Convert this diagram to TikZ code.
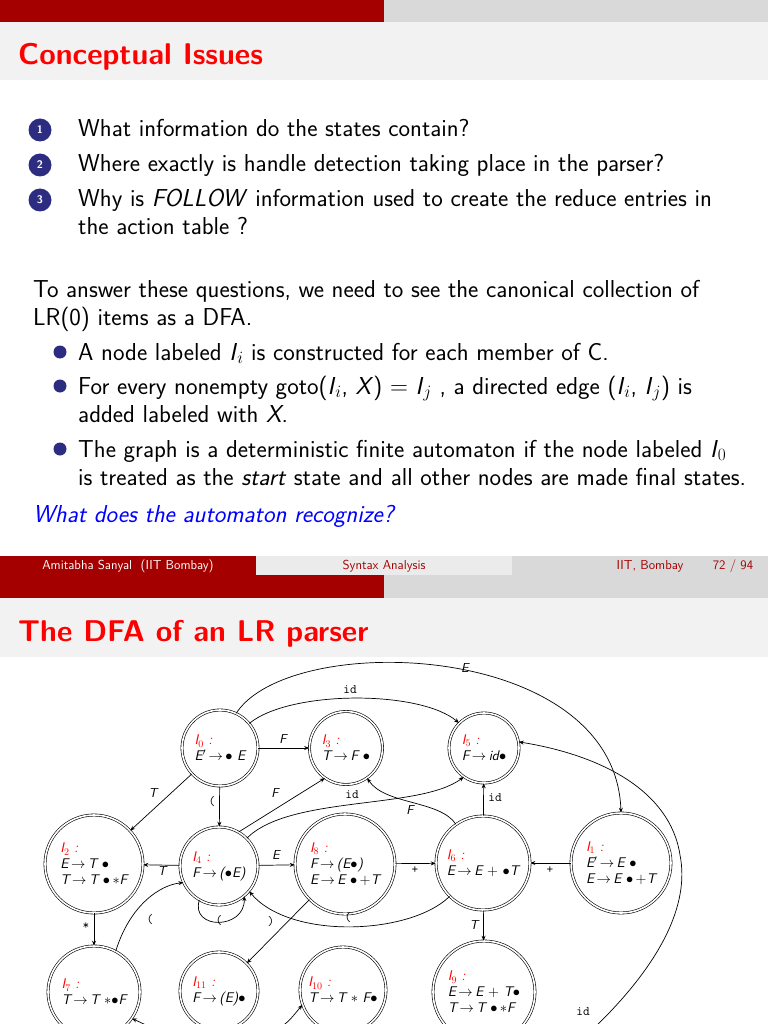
\documentclass[tikz,border=0pt]{standalone}
\usetikzlibrary{arrows.meta}
\definecolor{barred}{HTML}{A50000}
\definecolor{bandgray}{HTML}{F2F2F2}
\definecolor{bargray}{HTML}{D9D9D9}
\definecolor{midgray}{HTML}{EBEBEB}
\definecolor{titlered}{HTML}{FF0000}
\definecolor{ballblue}{HTML}{2C2C80}
\newcommand{\ar}{$\,\to\,$}
\newcommand{\bt}{$\bullet$}
\begin{document}
\begin{tikzpicture}[x=1pt,y=-1pt,
  body/.style={anchor=base west,inner sep=0,font=\fontsize{24.5}{28}\selectfont\sffamily},
  ttl/.style={anchor=base west,inner sep=0,text=titlered,font=\fontsize{30}{34}\selectfont\sffamily\bfseries},
  foot/.style={inner sep=0,font=\fontsize{13}{15}\selectfont\sffamily},
  st/.style={circle,draw,double,double distance=1.6pt,line width=0.6pt,inner sep=0,align=left,font=\fontsize{14}{16}\selectfont\sffamily\itshape},
  tr/.style={-{Stealth[length=5pt,width=4pt]},line width=0.7pt},
  lab/.style={inner sep=0,font=\fontsize{13}{14}\selectfont\sffamily\itshape},
  tlab/.style={inner sep=0,font=\fontsize{13}{14}\selectfont\ttfamily},
  bigball/.style={circle,inner sep=0,minimum size=23pt,fill=ballblue,text=white,font=\fontsize{11}{11}\selectfont\sffamily\bfseries},
  smallball/.style={circle,inner sep=0,minimum size=13pt,fill=ballblue}]
\useasboundingbox (0,0) rectangle (768,1024);
\clip (0,0) rectangle (768,1024);
% slide 1 frame
\fill[barred] (0,0) rectangle (384,22);
\fill[bargray] (384,0) rectangle (768,22);
\fill[bandgray] (0,22) rectangle (768,80);
\node[ttl] (t1) at (18,65) {Conceptual Issues};
\node[bigball] (b1) at (40,130) {1};
\node[bigball] (b2) at (40,165) {2};
\node[bigball] (b3) at (40,200) {3};
\node[body] (q1) at (78,137) {What information do the states contain?};
\node[body] (q2) at (78,172) {Where exactly is handle detection taking place in the parser?};
\node[body] (q3) at (78,207) {Why is \textit{FOLLOW} information used to create the reduce entries in};
\node[body] (q3b) at (78,235) {the action table ?};
\node[body] (p1) at (33,297) {To answer these questions, we need to see the canonical collection of};
\node[body] (p2) at (33,325) {LR(0) items as a DFA.};
\node[smallball] (d1) at (60,352) {};
\node[smallball] (d2) at (60,386) {};
\node[smallball] (d3) at (60,449) {};
\node[body] (s1) at (78,360) {A node labeled \textit{I}$_i$ is constructed for each member of C.};
\node[body] (s2) at (78,394) {For every nonempty goto(\textit{I}$_i$, \textit{X}) $=$ \textit{I}$_j$ , a directed edge (\textit{I}$_i$, \textit{I}$_j$) is};
\node[body] (s2b) at (78,422) {added labeled with \textit{X}.};
\node[body] (s3) at (78,457) {The graph is a deterministic finite automaton if the node labeled \textit{I}$_0$};
\node[body] (s3b) at (78,485) {is treated as the \textit{start} state and all other nodes are made final states.};
\node[body,text=blue,font=\fontsize{24.5}{28}\selectfont\sffamily\itshape] (bl) at (33,522) {What does the automaton recognize?};
% footer
\fill[barred] (0,556) rectangle (256,575);
\fill[midgray] (256,556) rectangle (512,575);
\fill[bargray] (512,556) rectangle (768,575);
\node[foot,text=white] (f1) at (128,566) {Amitabha Sanyal\ \ (IIT Bombay)};
\node[foot,text=barred] (f2) at (384,566) {Syntax Analysis};
\node[foot,text=barred] (f3) at (650,566) {IIT, Bombay};
\node[foot,text=barred] (f4) at (733,566) {72 / 94};
% slide 2 frame
\fill[barred] (0,575) rectangle (384,598);
\fill[bargray] (384,575) rectangle (768,598);
\fill[bandgray] (0,598) rectangle (768,657);
\node[ttl] (t2) at (18,641) {The DFA of an LR parser};
% states
\node[st,minimum size=76pt] (i0) at (220,748) {\textcolor{red}{I$_0$ :}\\E$'$\ar\bt\ E};
\node[st,minimum size=73pt] (i3) at (346,748) {\textcolor{red}{I$_3$ :}\\T\ar F \bt};
\node[st,minimum size=70pt] (i5) at (484,748) {\textcolor{red}{I$_5$ :}\\F\ar id\bt};
\node[st,minimum size=98pt] (i2) at (94,864) {\textcolor{red}{I$_2$ :}\\E\ar T \bt\\T\ar T \bt$\,{*}$F};
\node[st,minimum size=78pt] (i4) at (219,866) {\textcolor{red}{I$_4$ :}\\F\ar(\bt E)};
\node[st,minimum size=100pt] (i8) at (345,864) {\textcolor{red}{I$_8$ :}\\F\ar(E\bt)\\E\ar E \bt$\,+$T};
\node[st,minimum size=94pt] (i6) at (483,863) {\textcolor{red}{I$_6$ :}\\E\ar E $+$ \bt T};
\node[st,minimum size=100pt] (i1) at (621,863) {\textcolor{red}{I$_1$ :}\\E$'$\ar E \bt\\E\ar E \bt$\,+$T};
\node[st,minimum size=92pt] (i7) at (94,992) {\textcolor{red}{I$_7$ :}\\T\ar T $*$\bt F};
\node[st,minimum size=78pt] (i11) at (219,991) {\textcolor{red}{I$_{11}$ :}\\F\ar(E)\bt};
\node[st,minimum size=86pt] (i10) at (343,990) {\textcolor{red}{I$_{10}$ :}\\T\ar T $*$ F\bt};
\node[st,minimum size=102pt] (i9) at (484,992) {\textcolor{red}{I$_9$ :}\\E\ar E $+$ T\bt\\T\ar T \bt$\,{*}$F};
% edges
\draw[tr] (i0) -- (i3);
\node[lab] (l1) at (283,739) {F};
\draw[tr] (i0) -- (i2);
\node[lab] (l2) at (153,793) {T};
\draw[tr] (i0) -- (i4);
\node[tlab] (l3) at (212,802) {(};
\draw[tr] (i0.40) .. controls (290,690) and (420,690) .. (i5.135);
\node[tlab] (l4) at (350,690) {id};
\draw[tr] (i0.65) .. controls (290,630) and (615,640) .. (i1.90);
\node[lab] (l5) at (465,668) {E};
\draw[tr] (i4.60) -- (i3.235);
\node[lab] (l6) at (275,793) {F};
\draw[tr] (i4.45) .. controls (290,795) and (420,810) .. (i5.235);
\node[tlab] (l7) at (352,795) {id};
\draw[tr] (i4) -- (i2);
\node[lab] (l8) at (162,871) {T};
\draw[tr] (i4) -- (i8);
\node[lab] (l9) at (276,855) {E};
\draw[tr] (i4.240) .. controls (190,930) and (245,930) .. (i4.-50);
\node[tlab] (l10) at (219,921) {(};
\draw[tr] (i8.225) -- (i11.45);
\node[tlab] (l11) at (271,922) {)};
\draw[tr] (i8) -- (i6);
\node[tlab] (l12) at (415,870) {+};
\draw[tr] (i1) -- (i6);
\node[tlab] (l13) at (550,870) {+};
\draw[tr] (i6) -- (i5);
\node[tlab] (l14) at (495,798) {id};
\draw[tr] (i6.125) .. controls (440,800) and (385,805) .. (i3.-55);
\node[lab] (l15) at (410,810) {F};
\draw[tr] (i6.225) .. controls (410,935) and (290,940) .. (i4.-40);
\node[tlab] (l16) at (348,918) {(};
\draw[tr] (i6) -- (i9);
\node[lab] (l17) at (474,925) {T};
\draw[tr] (i2) -- (i7);
\node[tlab] (l18) at (86,926) {*};
\draw[tr] (i7.62) .. controls (130,905) and (160,885) .. (i4.205);
\node[tlab] (l19) at (150,920) {(};
\coordinate (c1) at (592,1030);
\draw[tr] (c1) .. controls (660,965) and (690,905) .. (680,855) .. controls (670,790) and (600,755) .. (i5.10);
\node[tlab] (l20) at (583,1012) {id};
\coordinate (c2) at (165,1034);
\draw[tr] (c2) .. controls (150,1026) .. (i7.-35);
\coordinate (c3) at (262,1034);
\draw[tr] (c3) .. controls (285,1026) .. (i10.200);
\end{tikzpicture}
\end{document}
